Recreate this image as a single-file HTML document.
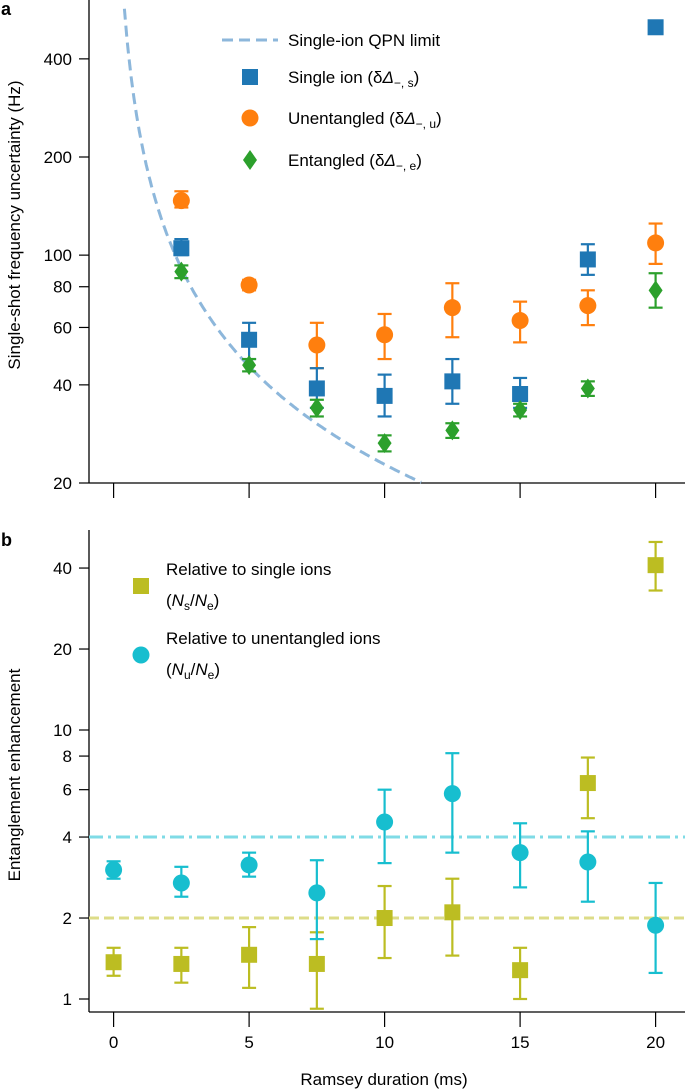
<!DOCTYPE html>
<html><head><meta charset="utf-8"><style>
body{margin:0;background:#fff}
svg{display:block;font-family:"Liberation Sans",Arial,sans-serif}
</style></head><body>
<svg id="chart" width="685" height="1089" viewBox="0 0 685 1089" xmlns="http://www.w3.org/2000/svg"></svg>
<script>
// ---- data ----
const durations = [2.5, 5, 7.5, 10, 12.5, 15, 17.5, 20];
const singleVal = [105, 55, 39, 37, 41, 37.5, 97, 500];
const singleLo  = [100, 48, 34, 32, 35, 34, 87, 500];
const singleHi  = [112, 62, 45, 43, 48, 42, 108, 500];
const unentVal = [147, 81, 53, 57, 69, 63, 70, 109];
const unentLo  = [140, 78, 45, 48, 56, 54, 61, 94];
const unentHi  = [157, 84, 62, 66, 82, 72, 78, 125];
const entVal = [89, 46, 34, 26.5, 29, 33.5, 39, 78];
const entLo  = [85, 44, 32, 25, 27.5, 32, 37, 69];
const entHi  = [93, 48, 36, 28, 30.5, 35, 41, 88];
const qpnConst = 228;
const durationsB = [0, 2.5, 5, 7.5, 10, 12.5, 15, 17.5, 20];
const nsVal = [1.37, 1.35, 1.46, 1.35, 2.0, 2.1, 1.28, 6.35, 41];
const nsLo  = [1.22, 1.15, 1.1, 0.92, 1.42, 1.45, 1.0, 4.7, 33];
const nsHi  = [1.55, 1.55, 1.85, 1.77, 2.63, 2.8, 1.55, 7.9, 50];
const nuVal = [3.02, 2.7, 3.15, 2.48, 4.55, 5.8, 3.5, 3.23, 1.88];
const nuLo  = [2.8, 2.4, 2.85, 1.67, 3.2, 3.5, 2.6, 2.3, 1.25];
const nuHi  = [3.25, 3.1, 3.5, 3.28, 6.0, 8.2, 4.5, 4.2, 2.7];
const ticksA = [20, 40, 60, 80, 100, 200, 400];
const ticksB = [1, 2, 4, 6, 8, 10, 20, 40];
const ticksX = [0, 5, 10, 15, 20];

const NS = "http://www.w3.org/2000/svg";
const svg = document.getElementById('chart');
const FS = 17;
function el(tag, attrs, parent) {
  const e = document.createElementNS(NS, tag);
  for (const k in attrs) e.setAttribute(k, attrs[k]);
  (parent || svg).appendChild(e);
  return e;
}
const X = t => 113.6 + t * 27.1;
const YA = v => 483 - 326 * Math.log10(v / 20);
const YB = v => 999 - 269 * Math.log10(v);
const C = {blue:'#1f77b4', orange:'#ff7f0e', green:'#2ca02c', olive:'#bcbd22', cyan:'#17becf', qpn:'#8db7db'};

// ---- axes ----
function axes(top, bottom, Y, ticks, name) {
  const g = el('g', {});
  
  
  el('line', {x1:89, y1:top, x2:89, y2:bottom, stroke:'#000', 'stroke-width':1.3}, g);
  el('line', {x1:89, y1:bottom, x2:685, y2:bottom, stroke:'#000', 'stroke-width':1.3}, g);
  ticks.forEach(v => {
    const y = Y(v);
    el('line', {x1:79, y1:y, x2:89, y2:y, stroke:'#000', 'stroke-width':1.2}, g);
    const t = el('text', {x:72, y:y + 6, 'text-anchor':'end', 'font-size':FS}, g);
    t.textContent = v;
  });
  ticksX.forEach(v => {
    el('line', {x1:X(v), y1:bottom, x2:X(v), y2:bottom + 15, stroke:'#000', 'stroke-width':1.2}, g);
  });
}
axes(0, 483, YA, ticksA, 'panel-a');
axes(530, 1012, YB, ticksB, 'panel-b');
ticksX.forEach(v => {
  const t = el('text', {x:X(v), y:1048, 'text-anchor':'middle', 'font-size':FS});
  
  
  t.textContent = v;
});
function txt(x, y, s, attrs, name) {
  const t = el('text', Object.assign({x, y, 'font-size':FS}, attrs || {}));
  
  
  t.innerHTML = s;
  return t;
}
txt(384, 1085, 'Ramsey duration (ms)', {'text-anchor':'middle'}, 'x-axis-title');
txt(0, 0, 'Single-shot frequency uncertainty (Hz)', {'text-anchor':'middle', transform:'translate(20,225) rotate(-90)'}, 'y-axis-title-a');
txt(0, 0, 'Entanglement enhancement', {'text-anchor':'middle', transform:'translate(20,775) rotate(-90)'}, 'y-axis-title-b');
txt(1, 15, 'a', {'font-weight':'bold', 'font-size':18}, 'panel-label-a');
txt(1, 546, 'b', {'font-weight':'bold', 'font-size':18}, 'panel-label-b');

// ---- markers ----
function marker(kind, x, y, color, parent) {
  if (kind === 'sq') return el('rect', {x:x-8, y:y-8, width:16, height:16, fill:color}, parent);
  if (kind === 'ci') return el('circle', {cx:x, cy:y, r:8.5, fill:color}, parent);
  return el('polygon', {points:`${x},${y-10} ${x+7},${y} ${x},${y+10} ${x-7},${y}`, fill:color}, parent);
}
function series(xs, vals, lo, hi, Y, kind, color, name) {
  const g = el('g', {});
  
  
  xs.forEach((t, i) => {
    const x = X(t), yl = Y(lo[i]), yh = Y(hi[i]);
    if (Math.abs(yl - yh) > 1) {
      el('line', {x1:x, y1:yl, x2:x, y2:yh, stroke:color, 'stroke-width':2.2}, g);
      el('line', {x1:x-7, y1:yl, x2:x+7, y2:yl, stroke:color, 'stroke-width':2.2}, g);
      el('line', {x1:x-7, y1:yh, x2:x+7, y2:yh, stroke:color, 'stroke-width':2.2}, g);
    }
    const m = marker(kind, x, Y(vals[i]), color, g);
    
    
  });
}

// QPN curve
let d = '';
for (let t = 0.3; t <= 13; t += 0.05) {
  const y = YA(qpnConst / t);
  if (y < 0) continue;
  if (y > 483) break;
  d += (d ? 'L' : 'M') + X(t).toFixed(1) + ',' + y.toFixed(1);
}
const qp = el('path', {d, fill:'none', stroke:C.qpn, 'stroke-width':3, 'stroke-dasharray':'11,6'});



series(durations, unentVal, unentLo, unentHi, YA, 'ci', C.orange, 'unentangled-series');
series(durations, singleVal, singleLo, singleHi, YA, 'sq', C.blue, 'single-ion-series');
series(durations, entVal, entLo, entHi, YA, 'di', C.green, 'entangled-series');

// panel b reference lines
const l4 = el('line', {x1:89, y1:YB(4), x2:685, y2:YB(4), stroke:'#7fdbe6', 'stroke-width':3, 'stroke-dasharray':'14,5,3,5'});


const l2 = el('line', {x1:89, y1:YB(2), x2:685, y2:YB(2), stroke:'#dddc88', 'stroke-width':3, 'stroke-dasharray':'10,5'});



series(durationsB, nsVal, nsLo, nsHi, YB, 'sq', C.olive, 'relative-single-series');
series(durationsB, nuVal, nuLo, nuHi, YB, 'ci', C.cyan, 'relative-unentangled-series');

// legends
const lq = el('line', {x1:222, y1:40, x2:278, y2:40, stroke:C.qpn, 'stroke-width':3, 'stroke-dasharray':'11,6'});


txt(288, 46, 'Single-ion QPN limit', {}, 'legend-qpn');
marker('sq', 250, 77, C.blue);
txt(288, 83, 'Single ion (δ<tspan font-style="italic">Δ</tspan><tspan font-size="12" dy="4">−, s</tspan><tspan dy="-4">)</tspan>', {}, 'legend-single');
marker('ci', 250, 118, C.orange);
txt(288, 124, 'Unentangled (δ<tspan font-style="italic">Δ</tspan><tspan font-size="12" dy="4">−, u</tspan><tspan dy="-4">)</tspan>', {}, 'legend-unentangled');
marker('di', 250, 160, C.green);
txt(288, 166, 'Entangled (δ<tspan font-style="italic">Δ</tspan><tspan font-size="12" dy="4">−, e</tspan><tspan dy="-4">)</tspan>', {}, 'legend-entangled');

marker('sq', 141, 586, C.olive);
txt(166, 575, 'Relative to single ions', {}, 'legend-relative-single');
txt(166, 606, '(<tspan font-style="italic">N</tspan><tspan font-size="12" dy="4">s</tspan><tspan dy="-4">/</tspan><tspan font-style="italic">N</tspan><tspan font-size="12" dy="4">e</tspan><tspan dy="-4">)</tspan>', {}, 'legend-ns-ne');
marker('ci', 141, 655, C.cyan);
txt(166, 644, 'Relative to unentangled ions', {}, 'legend-relative-unentangled');
txt(166, 675, '(<tspan font-style="italic">N</tspan><tspan font-size="12" dy="4">u</tspan><tspan dy="-4">/</tspan><tspan font-style="italic">N</tspan><tspan font-size="12" dy="4">e</tspan><tspan dy="-4">)</tspan>', {}, 'legend-nu-ne');
</script>
</body></html>
